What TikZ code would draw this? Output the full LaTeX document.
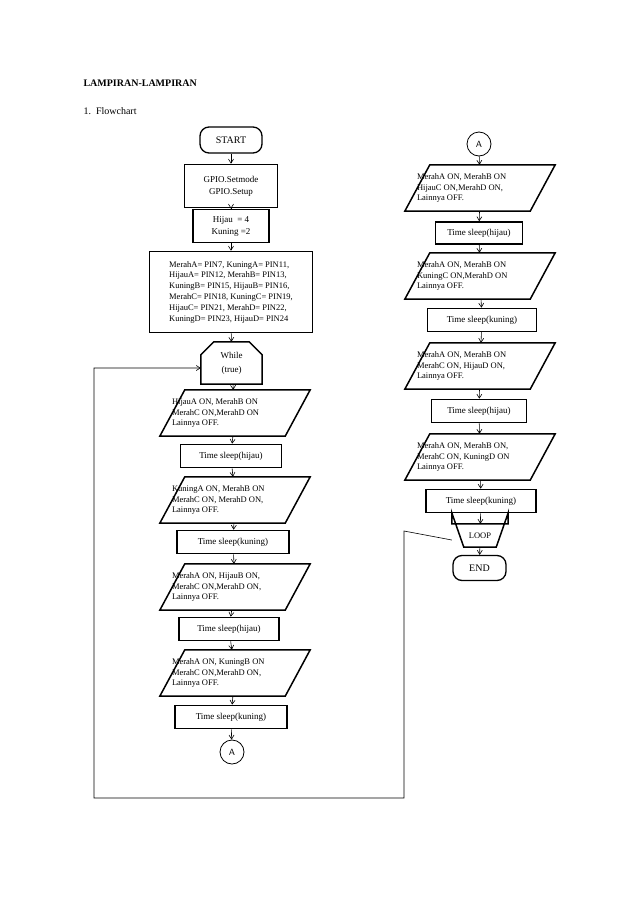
\documentclass[tikz,border=0pt]{standalone}
\usepackage{fontspec}
\setmainfont{Liberation Serif}
\usetikzlibrary{arrows.meta}
\begin{document}
\begin{tikzpicture}[x=1pt,y=-1pt,
  box/.style={draw,line width=1.6pt,align=center,font=\fontsize{9}{12}\selectfont,inner sep=2pt},
  term/.style={draw,line width=1.3pt,rounded corners=9pt,font=\fontsize{10}{12}\selectfont},
  ghost/.style={inner sep=0pt,align=left,font=\fontsize{8.5}{10.5}\selectfont},
  conn/.style={draw,circle,line width=0.8pt,minimum size=24pt,inner sep=0pt,font=\sffamily\fontsize{9}{10}\selectfont},
  arr/.style={-{Straight Barb[length=4pt,width=5pt]},line width=0.6pt},
  shp/.style={line width=1.5pt,line join=miter}]
\useasboundingbox (0,0) rectangle (638,902);
\newcommand\para[4]{% name, x, y(center), text ; width 150, height 46, skew 25
  \node[minimum width=150pt,minimum height=46pt,inner sep=0pt] (#1) at (#2,#3) {};
  \draw[shp] ([xshift=25pt]#1.north west) -- (#1.north east) -- ([xshift=-25pt]#1.south east) -- (#1.south west) -- cycle;
  \node[ghost,anchor=west] at ([xshift=12pt]#1.west) {#4};}
\node[anchor=west,font=\bfseries\fontsize{10}{12}\selectfont] (t) at (80,83) {LAMPIRAN-LAMPIRAN};
\node[anchor=west,font=\fontsize{10}{12}\selectfont] (t2) at (80,111) {1.\ \ Flowchart};
% left column
\node[term,minimum width=62pt,minimum height=26pt] (s) at (231,140) {START};
\node[box,minimum width=93pt,minimum height=43pt] (g) at (231,186) {GPIO.Setmode\\GPIO.Setup};
\node[box,minimum width=76pt,minimum height=33pt] (h) at (231,226) {Hijau\ \ = 4\\Kuning =2};
\node[box,minimum width=163pt,minimum height=81pt,align=left,font=\fontsize{8.5}{10.8}\selectfont] (p) at (231,292) {MerahA= PIN7, KuningA= PIN11,\\HijauA= PIN12, MerahB= PIN13,\\KuningB= PIN15, HijauB= PIN16,\\MerahC= PIN18, KuningC= PIN19,\\HijauC= PIN21, MerahD= PIN22,\\KuningD= PIN23, HijauD= PIN24};
\node[minimum width=61pt,minimum height=42pt,inner sep=0pt,align=center,font=\fontsize{9}{14}\selectfont] (w) at (231.5,363) {While\\(true)};
\draw[shp] ([xshift=13pt]w.north west) -- ([xshift=-13pt]w.north east) -- ([yshift=-13pt]w.north east) -- (w.south east) -- (w.south west) -- ([yshift=-13pt]w.north west) -- cycle;
\para{a1}{235}{413}{HijauA ON, MerahB ON\\MerahC ON,MerahD ON\\Lainnya OFF.}
\node[box,minimum width=101pt,minimum height=23pt] (b1) at (231,456) {Time sleep(hijau)};
\para{a2}{235}{500}{KuningA ON, MerahB ON\\MerahC ON, MerahD ON,\\Lainnya OFF.}
\node[box,minimum width=112pt,minimum height=23pt] (b2) at (233,542) {Time sleep(kuning)};
\para{a3}{235}{587}{MerahA ON, HijauB ON,\\MerahC ON,MerahD ON,\\Lainnya OFF.}
\node[box,minimum width=100pt,minimum height=23pt] (b3) at (229,629) {Time sleep(hijau)};
\para{a4}{235}{673}{MerahA ON, KuningB ON\\MerahC ON,MerahD ON,\\Lainnya OFF.}
\node[box,minimum width=112pt,minimum height=23pt] (b4) at (231,717) {Time sleep(kuning)};
\node[conn] (ca) at (232,752) {A};
\foreach \u/\v in {s/g,g/h,h/p,p/w,w/a1,a1/b1,b1/a2,a2/b2,b2/a3,a3/b3,b3/a4,a4/b4,b4/ca}
  \draw[arr] (\u) -- (\v);
% right column
\node[conn] (cb) at (479,144) {A};
\para{r1}{480}{188}{MerahA ON, MerahB ON\\HijauC ON,MerahD ON,\\Lainnya OFF.}
\node[box,minimum width=87pt,minimum height=22pt] (q1) at (479,233) {Time sleep(hijau)};
\para{r2}{480}{276}{MerahA ON, MerahB ON\\KuningC ON,MerahD ON\\Lainnya OFF.}
\node[box,minimum width=109pt,minimum height=23pt] (q2) at (482,320) {Time sleep(kuning)};
\para{r3}{480}{366}{MerahA ON, MerahB ON\\MerahC ON, HijauD ON,\\Lainnya OFF.}
\node[box,minimum width=95pt,minimum height=23pt] (q3) at (479,411) {Time sleep(hijau)};
\para{r4}{480}{457}{MerahA ON, MerahB ON,\\MerahC ON, KuningD ON\\Lainnya OFF.}
\node[box,minimum width=110pt,minimum height=23pt] (q4) at (481,501) {Time sleep(kuning)};
\node[minimum width=56pt,minimum height=23pt,inner sep=0pt,font=\fontsize{8.5}{10}\selectfont] (lp) at (480,535.5) {LOOP};
\draw[shp] (lp.north west) -- (lp.north east) -- ([yshift=11pt]lp.north east) -- ([xshift=-12pt]lp.south east) -- ([xshift=12pt]lp.south west) -- ([yshift=11pt]lp.north west) -- cycle;
\node[term,minimum width=53pt,minimum height=25pt] (e) at (479.5,568) {END};
\foreach \u/\v in {cb/r1,r1/q1,q1/r2,r2/q2,q2/r3,r3/q3,q3/r4,r4/q4,q4/lp,lp/e}
  \draw[arr] (\u) -- (\v);
% loop back
\coordinate (k1) at (404,531);
\coordinate (k2) at (404,798);
\coordinate (k3) at (94,798);
\coordinate (k4) at (94,368);
\draw[arr] ([yshift=-4.5pt]lp.west) -- (k1) -- (k2) -- (k3) -- (k4) -- (w.west |- k4);
\end{tikzpicture}
\end{document}
